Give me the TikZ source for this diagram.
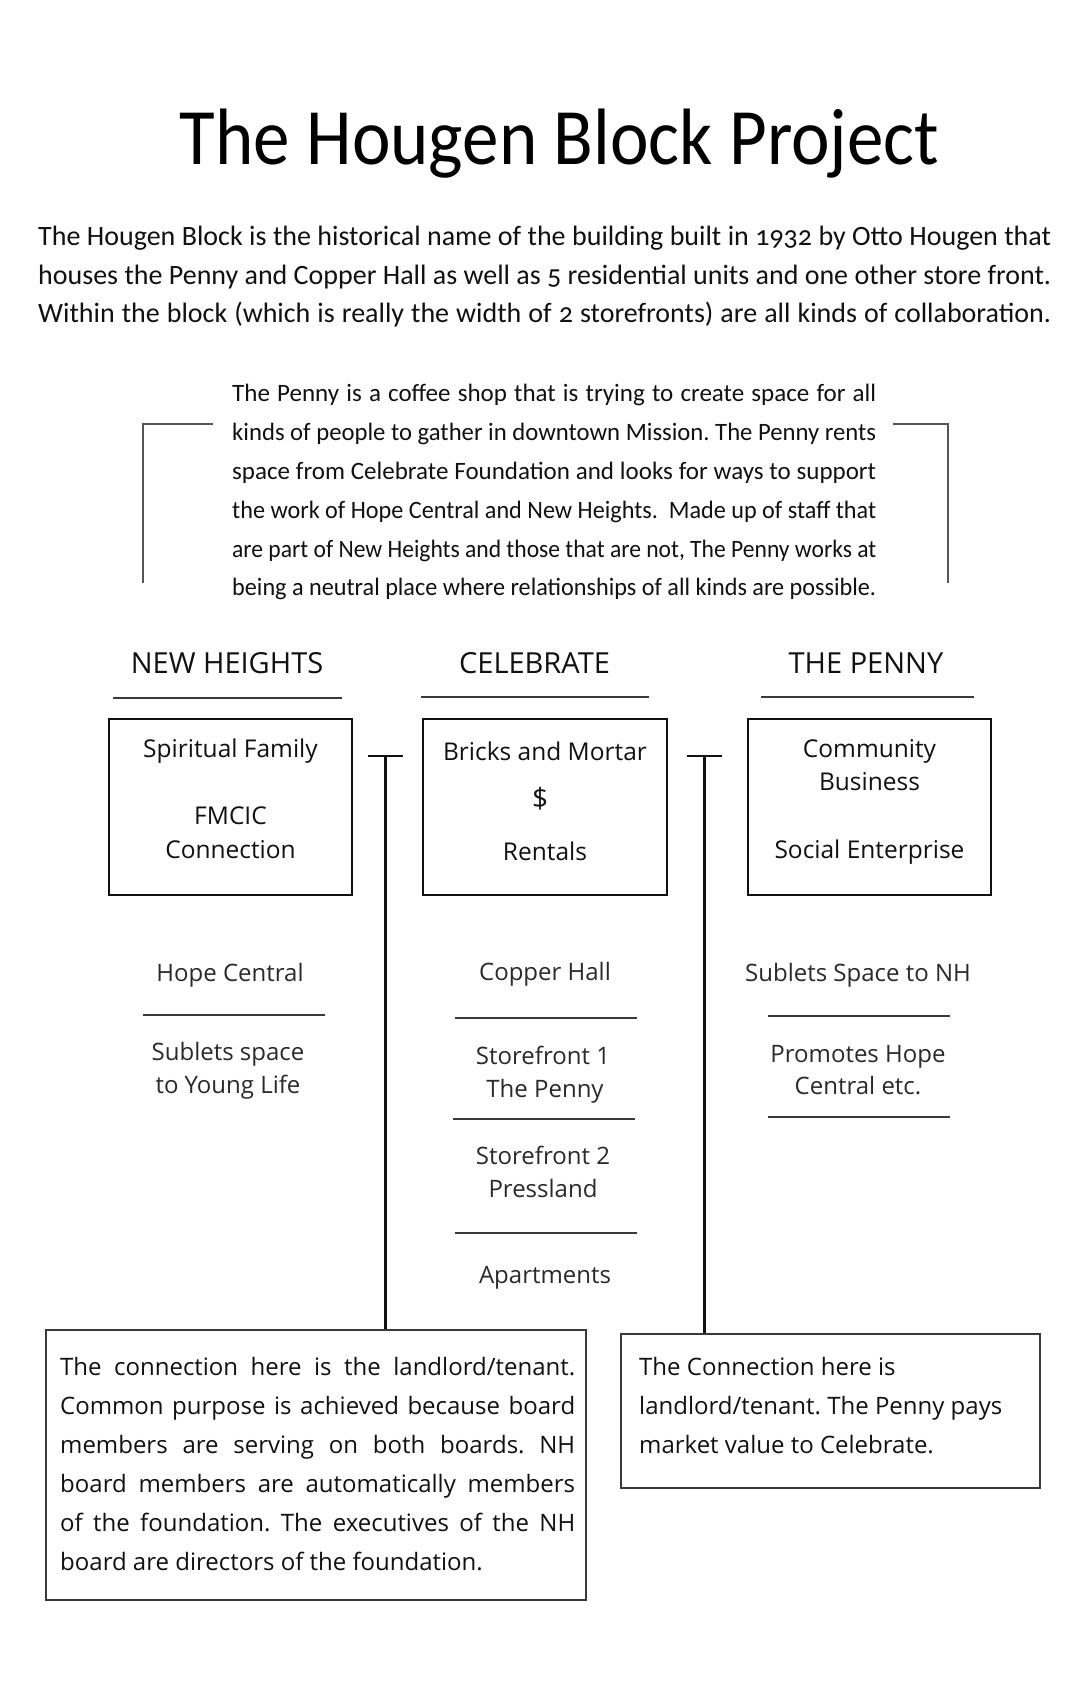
\documentclass[tikz,border=0pt]{standalone}
\usepackage{fontspec}
\setmainfont{Carlito}[Numbers=OldStyle]
\newfontfamily\osans{Open Sans}
\usepackage{graphicx}
\frenchspacing
\newlength\fitlw
\newcommand\fitline[2]{\settowidth\fitlw{#2}\ifdim\fitlw>#1\relax\resizebox{#1}{\height}{#2}\else\makebox[#1][s]{#2}\fi}
\definecolor{ink}{HTML}{111111}
\definecolor{soft}{HTML}{2A2A2A}
\definecolor{rulec}{HTML}{3A3A3A}
\definecolor{brack}{HTML}{555555}
\tikzset{
  titletext/.style={anchor=base, inner sep=0pt, text=black, font=\fontsize{80}{80}\selectfont},
  paraline/.style={anchor=base west, inner sep=0pt, text=ink, font=\fontsize{28}{34}\selectfont},
  pennyline/.style={anchor=base west, inner sep=0pt, text=ink, font=\fontsize{25}{30}\selectfont},
  header/.style={anchor=base, inner sep=0pt, text=ink, font=\osans\fontsize{29}{34}\selectfont},
  boxtext/.style={anchor=base, inner sep=0pt, text=ink, font=\osans\fontsize{24.5}{30}\selectfont},
  listtext/.style={anchor=base, inner sep=0pt, text=soft, font=\osans\fontsize{24}{30}\selectfont},
  noteline/.style={anchor=base west, inner sep=0pt, text=ink, font=\osans\fontsize{24}{30}\selectfont},
  mainbox/.style={draw=ink, line width=2.7pt, inner sep=0pt, fill=none},
  notebox/.style={draw=rulec, line width=1.6pt, inner sep=0pt, fill=none},
  hrule/.style={draw=rulec, line width=1.5pt},
  bracketline/.style={draw=brack, line width=1.5pt},
  connector/.style={draw=ink, line width=2.2pt}
}
\begin{document}
\begin{tikzpicture}[x=1pt,y=-1pt]
\fill[white] (0,0) rectangle (1066,1700);
\useasboundingbox (0,0) rectangle (1066,1700);

% title
\node[titletext] (title) at (559.5,164) {\resizebox{759pt}{\height}{The Hougen Block Project}};

% intro paragraph
\node[paraline] (p1) at (38,245) {\fitline{1013pt}{The Hougen Block is the historical name of the building built in 1932 by Otto Hougen that}};
\node[paraline] (p2) at (38,284) {\fitline{1013pt}{houses the Penny and Copper Hall as well as 5 residential units and one other store front.}};
\node[paraline] (p3) at (38,322.5) {\fitline{1013pt}{Within the block (which is really the width of 2 storefronts) are all kinds of collaboration.}};

% penny paragraph
\node[pennyline] (q1) at (232,401) {\fitline{644pt}{The Penny is a coffee shop that is trying to create space for all}};
\node[pennyline] (q2) at (232,440) {\fitline{644pt}{kinds of people to gather in downtown Mission. The Penny rents}};
\node[pennyline] (q3) at (232,479) {\fitline{644pt}{space from Celebrate Foundation and looks for ways to support}};
\node[pennyline] (q4) at (232,518) {\fitline{644pt}{the work of Hope Central and New Heights. \ Made up of staff that}};
\node[pennyline] (q5) at (232,557) {\fitline{644pt}{are part of New Heights and those that are not, The Penny works at}};
\node[pennyline] (q6) at (232,595) {\fitline{644pt}{being a neutral place where relationships of all kinds are possible.}};

% brackets
\draw[bracketline] (213,424) -- (143,424) -- (143,583);
\draw[bracketline] (893,424) -- (948,424) -- (948,583);

% headers
\node[header] (h1) at (227,673) {NEW HEIGHTS};
\node[header] (h2) at (534.5,673) {CELEBRATE};
\node[header] (h3) at (866,673) {THE PENNY};
\draw[hrule] (113,698) -- (342,698);
\draw[hrule] (421,697) -- (649,697);
\draw[hrule] (761,697) -- (974,697);

% main boxes
\node[mainbox, minimum width=243pt, minimum height=176pt] (b1) at (230.5,807) {};
\node[mainbox, minimum width=244pt, minimum height=176pt] (b2) at (545,807) {};
\node[mainbox, minimum width=243pt, minimum height=176pt] (b3) at (869.5,807) {};

\node[boxtext] (b1a) at (230.5,757) {Spiritual Family};
\node[boxtext] (b1b) at (230.5,824) {FMCIC};
\node[boxtext] (b1c) at (230.5,858) {Connection};

\node[boxtext] (b2a) at (545,760) {Bricks and Mortar};
\node[boxtext, font=\osans\fontsize{28}{32}\selectfont] (b2b) at (540,808) {\$};
\node[boxtext] (b2c) at (545,860) {Rentals};

\node[boxtext] (b3a) at (869.5,757) {Community};
\node[boxtext] (b3b) at (869.5,790) {Business};
\node[boxtext] (b3c) at (869.5,858) {Social Enterprise};

% lists
\node[listtext] (l1a) at (230,981) {Hope Central};
\draw[hrule] (143,1015) -- (325,1015);
\node[listtext] (l1b) at (228,1060) {Sublets space};
\node[listtext] (l1c) at (228,1093) {to Young Life};

\node[listtext] (l2a) at (545,980) {Copper Hall};
\draw[hrule] (455,1018) -- (637,1018);
\node[listtext] (l2b) at (543,1064) {Storefront 1};
\node[listtext] (l2c) at (545,1097) {The Penny};
\draw[hrule] (453,1119) -- (635,1119);
\node[listtext] (l2d) at (543,1164) {Storefront 2};
\node[listtext] (l2e) at (543,1197) {Pressland};
\draw[hrule] (455,1233) -- (637,1233);
\node[listtext] (l2f) at (545,1283) {Apartments};

\node[listtext] (l3a) at (858,981) {Sublets Space to NH};
\draw[hrule] (768,1016) -- (950,1016);
\node[listtext] (l3b) at (858,1062) {Promotes Hope};
\node[listtext] (l3c) at (858,1094) {Central etc.};
\draw[hrule] (768,1117) -- (950,1117);

% note boxes
\node[notebox, minimum width=540pt, minimum height=270pt] (n1) at (316,1465) {};
\node[notebox, minimum width=419pt, minimum height=154pt] (n2) at (830.5,1411) {};

\node[noteline] (n1a) at (60,1375) {\fitline{515pt}{The connection here is the landlord/tenant.}};
\node[noteline] (n1b) at (60,1414) {\fitline{515pt}{Common purpose is achieved because board}};
\node[noteline] (n1c) at (60,1453) {\fitline{515pt}{members are serving on both boards. NH}};
\node[noteline] (n1d) at (60,1492) {\fitline{515pt}{board members are automatically members}};
\node[noteline] (n1e) at (60,1531) {\fitline{515pt}{of the foundation. The executives of the NH}};
\node[noteline] (n1f) at (60,1570) {board are directors of the foundation.};

\node[noteline] (n2a) at (639,1375) {The Connection here is};
\node[noteline] (n2b) at (639,1414) {landlord/tenant. The Penny pays};
\node[noteline] (n2c) at (639,1453) {market value to Celebrate.};

% connectors
\coordinate (t1) at (385.5,756);
\coordinate (t2) at (704.5,756);
\draw[connector] ([xshift=-17.5pt]t1) -- ([xshift=17.5pt]t1);
\draw[connector] (t1) -- (t1 |- n1.north);
\draw[connector] ([xshift=-17.5pt]t2) -- ([xshift=17.5pt]t2);
\draw[connector] (t2) -- (t2 |- n2.north);
\end{tikzpicture}
\end{document}
